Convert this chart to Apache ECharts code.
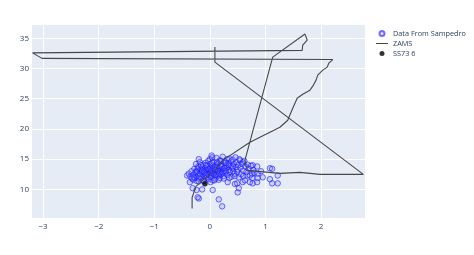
<!DOCTYPE html>
<html><head><meta charset="utf-8">
<script src="https://cdn.jsdelivr.net/npm/echarts@6/dist/echarts.min.js"></script>
<style>html,body{margin:0;padding:0;background:#fff}#c{width:474px;height:255px}</style>
</head><body><div id="c"></div>
<script>
const xTicks = [-3, -2, -1, 0, 1, 2];
const yTicks = [10, 15, 20, 25, 30, 35];

const zamsPoints = [
  [-0.32, 6.85], [-0.32, 8.67], [-0.25, 10.5], [-0.09, 11.82], [0.09, 13.15], [0.23, 14.81],
  [0.72, 17.79], [1.08, 19.45], [1.26, 20.28], [1.40, 21.44], [1.49, 23.43], [1.57, 25.09],
  [1.67, 25.75], [1.80, 26.42], [1.85, 27.08], [1.91, 28.08], [1.94, 28.91], [2.03, 29.73],
  [2.11, 30.23], [2.14, 30.9], [2.21, 31.48], [-3.02, 31.68], [-3.19, 32.59], [1.66, 33.0],
  [1.67, 33.88], [1.75, 34.71], [1.71, 35.7], [1.13, 31.89], [0.63, 14.81], [0.67, 13.15],
  [1.26, 12.65], [1.62, 12.82], [1.98, 12.49], [2.76, 12.49], [0.09, 31.06], [0.09, 33.55]
];

const sampedroPoints = [
  [-0.20, 15.0], [0.00, 15.0], [0.04, 15.3], [0.54, 14.8], [0.59, 14.5], [0.77, 14.0], [0.85, 13.8],
  [1.08, 13.5], [1.12, 13.4], [1.22, 12.3], [-0.41, 12.3], [-0.36, 11.2], [-0.31, 10.2], [-0.24, 9.9],
  [-0.14, 10.0], [0.05, 9.9], [-0.20, 8.5], [0.16, 8.35], [0.22, 7.2], [0.32, 11.2], [0.45, 10.9],
  [0.49, 11.0], [0.52, 10.2], [0.50, 9.5], [0.59, 11.2], [0.63, 11.5], [0.72, 11.2], [0.76, 11.9],
  [0.77, 11.0], [0.85, 11.2], [0.86, 11.9], [1.08, 11.7], [1.12, 11.0], [1.22, 11.0], [0.67, 12.3],
  [0.76, 12.6], [0.86, 12.6], [-0.22, 8.7],
  [-0.38, 12.6], [-0.35, 12.1], [-0.33, 13.0], [-0.30, 11.6], [-0.30, 12.4], [-0.28, 13.4], [-0.27, 11.9],
  [-0.26, 12.8], [-0.25, 14.2], [-0.24, 11.4], [-0.23, 13.1], [-0.22, 12.3], [-0.21, 13.8], [-0.20, 11.8],
  [-0.19, 12.7], [-0.18, 14.5], [-0.17, 13.3], [-0.16, 12.0], [-0.15, 12.9], [-0.14, 13.6], [-0.13, 11.5],
  [-0.12, 12.5], [-0.12, 14.1], [-0.11, 13.0], [-0.10, 12.2], [-0.09, 13.5], [-0.08, 11.9], [-0.08, 14.4],
  [-0.07, 12.7], [-0.06, 13.2], [-0.05, 12.0], [-0.05, 13.9], [-0.04, 12.6], [-0.03, 14.7], [-0.02, 13.1],
  [-0.02, 11.7], [-0.01, 12.4], [0.00, 13.6], [0.00, 12.9], [0.01, 14.2], [0.02, 12.1], [0.02, 13.3],
  [0.03, 15.6], [0.04, 12.7], [0.05, 13.9], [0.05, 11.5], [0.06, 13.0], [0.07, 14.5], [0.08, 12.4],
  [0.08, 13.5], [0.09, 12.9], [0.10, 14.0], [0.10, 11.8], [0.11, 13.2], [0.12, 15.2], [0.12, 12.6],
  [0.13, 13.7], [0.14, 12.2], [0.15, 14.3], [0.15, 13.0], [0.16, 12.8], [0.17, 13.5], [0.18, 14.8],
  [0.18, 11.9], [0.19, 13.2], [0.20, 12.5], [0.21, 14.1], [0.22, 13.8], [0.22, 12.9], [0.23, 15.4],
  [0.24, 13.4], [0.25, 12.2], [0.26, 14.6], [0.27, 13.1], [0.28, 12.7], [0.29, 14.0], [0.30, 13.6],
  [0.31, 15.0], [0.32, 12.4], [0.33, 14.3], [0.34, 13.2], [0.35, 15.1], [0.36, 12.9], [0.37, 13.9],
  [0.38, 14.6], [0.39, 12.1], [0.40, 13.5], [0.41, 14.9], [0.42, 13.0], [0.43, 14.2], [0.44, 12.6],
  [0.46, 15.3], [0.47, 13.7], [0.48, 14.5], [0.49, 12.9], [0.50, 13.3], [0.51, 14.0], [0.53, 15.0],
  [0.55, 13.6], [0.56, 12.5], [0.58, 14.2], [0.60, 13.1], [0.62, 14.7], [0.64, 13.8], [0.66, 12.9],
  [0.68, 14.1], [0.70, 13.4], [0.72, 12.3], [0.74, 13.9], [0.78, 13.2], [0.80, 12.8], [0.92, 13.0],
  [0.95, 12.0],
  [-0.18, 12.5], [-0.14, 13.1], [-0.10, 12.8], [-0.06, 12.4], [-0.03, 13.4], [0.01, 12.7], [0.03, 13.1],
  [0.06, 12.6], [0.09, 13.3], [0.11, 12.4], [0.14, 13.0], [0.17, 12.6], [0.19, 13.9], [0.23, 12.8],
  [0.26, 13.5], [0.29, 13.0], [-0.22, 13.5], [-0.16, 14.0], [-0.07, 14.0], [0.04, 14.4], [0.13, 14.5],
  [0.20, 14.7], [0.28, 14.4], [0.34, 14.0], [0.41, 13.8], [-0.24, 12.9], [-0.29, 12.0], [-0.32, 11.8],
  [-0.20, 11.3], [-0.11, 11.4], [0.01, 11.2], [0.08, 11.5], [0.16, 11.6], [0.25, 11.8], [0.35, 11.9],
  [0.45, 12.2], [0.52, 12.0], [0.60, 12.2]
];

const ss73Point = [[-0.09, 10.95]];

const fmt = v => String(v).replace('-', '\u2212');
const chart = echarts.init(document.getElementById('c'), null, { renderer: 'canvas' });
chart.setOption({
  animation: false,
  textStyle: { fontFamily: 'Open Sans' },
  grid: { left: 32, right: 109, top: 25, bottom: 37, show: true, backgroundColor: '#E5ECF6', borderWidth: 0 },
  xAxis: {
    type: 'value', min: -3.2, max: 2.79,
    axisLine: { show: false },
    axisTick: { show: false, customValues: xTicks },
    axisLabel: { customValues: xTicks, formatter: fmt, fontSize: 8, color: '#2a3f5f', margin: 5 },
    splitLine: { show: true, lineStyle: { color: '#ffffff', width: 1 } }
  },
  yAxis: {
    type: 'value', min: 5.27, max: 37.2,
    axisLine: { show: false },
    axisTick: { show: false, customValues: yTicks },
    axisLabel: { customValues: yTicks, formatter: fmt, fontSize: 8, color: '#2a3f5f', margin: 3 },
    splitLine: { show: true, lineStyle: { color: '#ffffff', width: 1 } }
  },
  legend: {
    orient: 'vertical', left: 376, top: 30, padding: 0,
    itemWidth: 12, itemHeight: 5, itemGap: 3,
    textStyle: { fontSize: 7.3, color: '#2a3f5f', lineHeight: 7 },
    data: [
      { name: 'Data From Sampedro', icon: 'circle' },
      { name: 'ZAMS', icon: 'path://M0 0H12V1H0Z' },
      { name: 'SS73 6', icon: 'circle' }
    ]
  },
  series: [
    {
      name: 'Data From Sampedro', type: 'scatter', data: sampedroPoints,
      symbol: 'circle', symbolSize: 5.5,
      itemStyle: { color: 'rgba(120,120,255,0.28)', borderColor: 'rgba(20,20,255,0.75)', borderWidth: 1 }
    },
    {
      name: 'ZAMS', type: 'line', data: zamsPoints, symbol: 'none',
      lineStyle: { color: '#474747', width: 1.1 }, itemStyle: { color: '#474747' }
    },
    {
      name: 'SS73 6', type: 'scatter', data: ss73Point, symbol: 'circle', symbolSize: 5.5,
      itemStyle: { color: '#000000' }
    }
  ]
});
</script>
</body></html>
